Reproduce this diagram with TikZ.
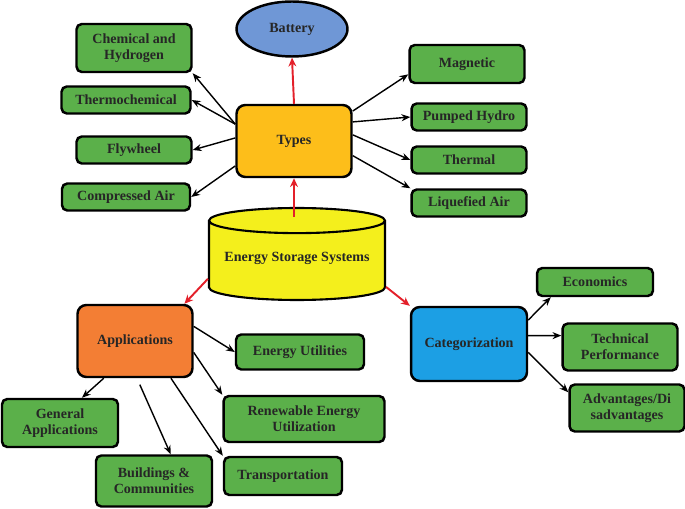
\documentclass[tikz,border=0pt]{standalone}
\usepackage{fontspec}
\setmainfont{Liberation Serif}
\usepackage{xcolor}
\usepackage{tikz}
\definecolor{leafGreen}{HTML}{5BB04A}
\definecolor{typesGold}{HTML}{FDBE1A}
\definecolor{appOrange}{HTML}{F37E34}
\definecolor{catBlue}{HTML}{1C9FE4}
\definecolor{battBlue}{HTML}{6F97D6}
\definecolor{essYellow}{HTML}{F4EF1C}
\definecolor{linkRed}{HTML}{E3202A}
\usetikzlibrary{arrows.meta,positioning,shapes.geometric,calc}

\begin{document}
\begin{tikzpicture}[
  x=0.02cm, y=-0.02cm,
  font=\fontsize{8}{9.2}\selectfont\bfseries,
  leafbox/.style={draw=black, line width=1.4pt, rounded corners=3pt, fill=leafGreen, minimum width=2.3cm, minimum height=0.54cm, inner sep=1pt, align=center, text=black!85},
  hubbox/.style={draw=black, line width=1.4pt, rounded corners=5pt, minimum width=2.3cm, minimum height=1.44cm, align=center, text=black!85},
  link/.style={line width=0.8pt, -{Stealth[length=5pt,width=4pt]}},
  redlink/.style={line width=1.1pt, linkRed, -{Stealth[length=5pt,width=4.5pt]}}
]
\useasboundingbox (0,0) rectangle (685,509);

% Central storage cylinder
\node[cylinder, shape border rotate=90, aspect=0.16, draw=black, line width=1.2pt, fill=essYellow, minimum width=3.52cm, minimum height=1.84cm, anchor=shape center, text=black!85] (ess) at (297,254) {\raisebox{1pt}[0pt][0pt]{Energy Storage Systems}};

% Main branches
\node[hubbox, fill=typesGold] (types) at (294,141) {Types};
\node[hubbox, fill=appOrange] (applications) at (135,341) {Applications};
\node[hubbox, fill=catBlue, minimum width=2.32cm, minimum height=1.48cm] (categorization) at (469,344) {Categorization};
\node[ellipse, draw=black, line width=1.4pt, fill=battBlue, minimum width=2.22cm, minimum height=1.1cm, inner sep=0pt, text=black!85] (battery) at (292,29) {Battery};

% Types, left side
\node[leafbox, minimum height=0.96cm] (chemical) at (134,48) {Chemical and\\Hydrogen};
\node[leafbox, minimum width=2.58cm] (thermochem) at (126,100) {Thermochemical};
\node[leafbox] (flywheel) at (134,150) {Flywheel};
\node[leafbox, minimum width=2.56cm] (compressed) at (126,197) {Compressed Air};

% Types, right side
\node[leafbox, minimum height=0.76cm] (magnetic) at (467,64) {Magnetic};
\node[leafbox] (pumped) at (469,117) {Pumped Hydro};
\node[leafbox] (thermal) at (469,160) {Thermal};
\node[leafbox] (liquefied) at (469,203) {Liquefied Air};

% Applications
\node[leafbox, minimum width=2.56cm, minimum height=0.7cm] (utilities) at (300,352) {Energy Utilities};
\node[leafbox, minimum width=3.22cm, minimum height=0.92cm] (renewable) at (304,419) {Renewable Energy\\Utilization};
\node[leafbox, minimum width=2.32cm, minimum height=0.96cm] (general) at (60,423) {General\\Applications};
\node[leafbox, minimum width=2.32cm, minimum height=1.02cm] (buildings) at (154,481) {Buildings \&\\Communities};
\node[leafbox, minimum width=2.36cm, minimum height=0.76cm] (transport) at (283,476) {Transportation};

% Categorization
\node[leafbox, minimum width=2.32cm, minimum height=0.56cm] (economics) at (595,282) {Economics};
\node[leafbox, minimum height=0.94cm] (technical) at (620,347) {Technical\\Performance};
\node[leafbox, minimum height=0.94cm] (advantages) at (627,408) {Advantages/Di\\sadvantages};

% Red links
\draw[redlink] (types.north) -- (battery.south);
\draw[redlink, shorten <=-0.2cm] (types.south |- ess.north) -- (types.south);
\draw[redlink] (ess.190) -- (applications.37);
\draw[redlink] (ess.345) -- (categorization.north west);

% Types links
\draw[link] (types.164) -- (chemical.south east);
\draw[link] (types.164) -- (thermochem.east);
\draw[link] (types.177) -- (flywheel.east);
\draw[link] (types.203) -- (compressed.east);
\draw[link] (types.27) -- (magnetic.190);
\draw[link] (types.18) -- (pumped.west);
\draw[link] (types.6) -- (thermal.west);
\draw[link] (types.-14) -- (liquefied.north west);

% Applications links
\draw[link] (applications.14) -- (utilities.west);
\draw[link] (applications.-11) -- (renewable.north west);
\draw[link] (applications.230) -- (general.49);
\draw[link, shorten <=4pt] (applications.273) -- (buildings.58);
\draw[link] (applications.314) -- (transport.north west);

% Categorization links
\draw[link] (categorization.22) -- (economics.199);
\draw[link] (categorization.8) -- (technical.169);
\draw[link] (categorization.-8) -- (advantages.165);

\end{tikzpicture}
\end{document}
